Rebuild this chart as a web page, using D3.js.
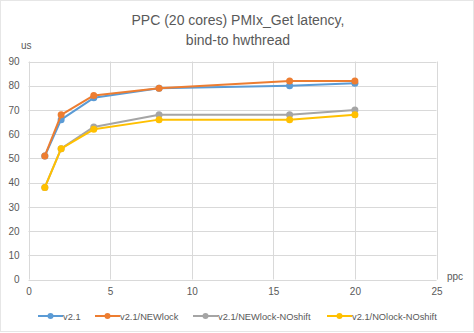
<!DOCTYPE html>
<html><head><meta charset="utf-8">
<script src="https://cdn.jsdelivr.net/npm/d3@7"></script>
<style>
body{margin:0;background:#fff;}
svg{display:block;font-family:"Liberation Sans",Arial,sans-serif;}
</style></head><body>
<svg id="c" width="474" height="333"></svg>
<script>
const ppc = [1, 2, 4, 8, 16, 20];
const seriesNames = ["v2.1", "v2.1/NEWlock", "v2.1/NEWlock-NOshift", "v2.1/NOlock-NOshift"];
const v21 = [51, 66, 75, 79, 80, 81];
const v21NewLock = [51, 68, 76, 79, 82, 82];
const v21NewLockNoShift = [38, 54, 63, 68, 68, 70];
const v21NoLockNoShift = [38, 54, 62, 66, 66, 68];
const colors = ["#5B9BD5", "#ED7D31", "#A5A5A5", "#FFC000"];
const xTicks = [0, 5, 10, 15, 20, 25];
const yTicks = [0, 10, 20, 30, 40, 50, 60, 70, 80, 90];
const titleLines = ["PPC (20 cores) PMIx_Get latency,", "bind-to hwthread"];

const allSeries = [v21, v21NewLock, v21NewLockNoShift, v21NoLockNoShift];
const svg = d3.select("#c");
const L = 28.5, R = 436.5, T = 61.5, B = 279.5;
const x = d3.scaleLinear().domain([0, 25]).range([L, R]);
const y = d3.scaleLinear().domain([0, 90]).range([B, T]);
const textCol = "#595959";

// border
svg.append("rect").attr("x",0.5).attr("y",0.5).attr("width",473).attr("height",331)
  .attr("fill","none").attr("stroke","#e6e6e6");

// grid
svg.append("g").selectAll("line").data(yTicks).join("line")
  .attr("x1", L).attr("x2", R).attr("y1", d => Math.round(y(d))+0.5).attr("y2", d => Math.round(y(d))+0.5)
  .attr("stroke", "#d9d9d9").attr("stroke-width", 1);
svg.append("g").selectAll("line").data(xTicks).join("line")
  .attr("y1", T).attr("y2", B).attr("x1", d => Math.round(x(d))+0.5).attr("x2", d => Math.round(x(d))+0.5)
  .attr("stroke", "#d9d9d9").attr("stroke-width", 1);

// axes labels
const yAxis = d3.axisLeft(y).tickValues(yTicks).tickSize(0).tickPadding(9);
const gy = svg.append("g").attr("transform", `translate(${L},0)`).call(yAxis);
gy.select(".domain").remove();
gy.selectAll("text").attr("fill", textCol).style("font-size","10px");
const xAxis = d3.axisBottom(x).tickValues(xTicks).tickSize(0).tickPadding(8);
const gx = svg.append("g").attr("transform", `translate(0,${B})`).call(xAxis);
gx.select(".domain").remove();
gx.selectAll("text").attr("fill", textCol).style("font-size","10px");

// title
svg.append("g").selectAll("text").data(titleLines).join("text")
  .attr("x", 238).attr("y", (d,i) => 25 + i*20).attr("text-anchor","middle")
  .attr("fill", textCol).style("font-size","14px").text(d => d);

svg.append("text").attr("x", 21).attr("y", 49).attr("fill", textCol).style("font-size","10px").text("us");
svg.append("text").attr("x", 447).attr("y", 280).attr("fill", textCol).style("font-size","10px").text("ppc");

// lines
const line = d3.line().x((d,i) => x(ppc[i])).y(d => y(d));
allSeries.forEach((s, k) => {
  const g = svg.append("g");
  g.append("path").datum(s).attr("d", line).attr("fill","none")
    .attr("stroke", colors[k]).attr("stroke-width", 2).attr("stroke-linejoin","round");
  g.selectAll("circle").data(s).join("circle")
    .attr("cx", (d,i) => x(ppc[i])).attr("cy", d => y(d)).attr("r", 3.5)
    .attr("fill", colors[k]);
});

// legend
const legX = [38, 95, 193, 327];
const leg = svg.append("g");
seriesNames.forEach((n, k) => {
  const g = leg.append("g").attr("transform", `translate(${legX[k]},316)`);
  g.append("line").attr("x1",0).attr("x2",25).attr("y1",0).attr("y2",0).attr("stroke",colors[k]).attr("stroke-width",2);
  g.append("circle").attr("cx",12.5).attr("cy",0).attr("r",3).attr("fill",colors[k]);
  g.append("text").attr("x",25).attr("y",3.5).attr("fill",textCol).style("font-size","9.3px").text(n);
});
</script></body></html>
